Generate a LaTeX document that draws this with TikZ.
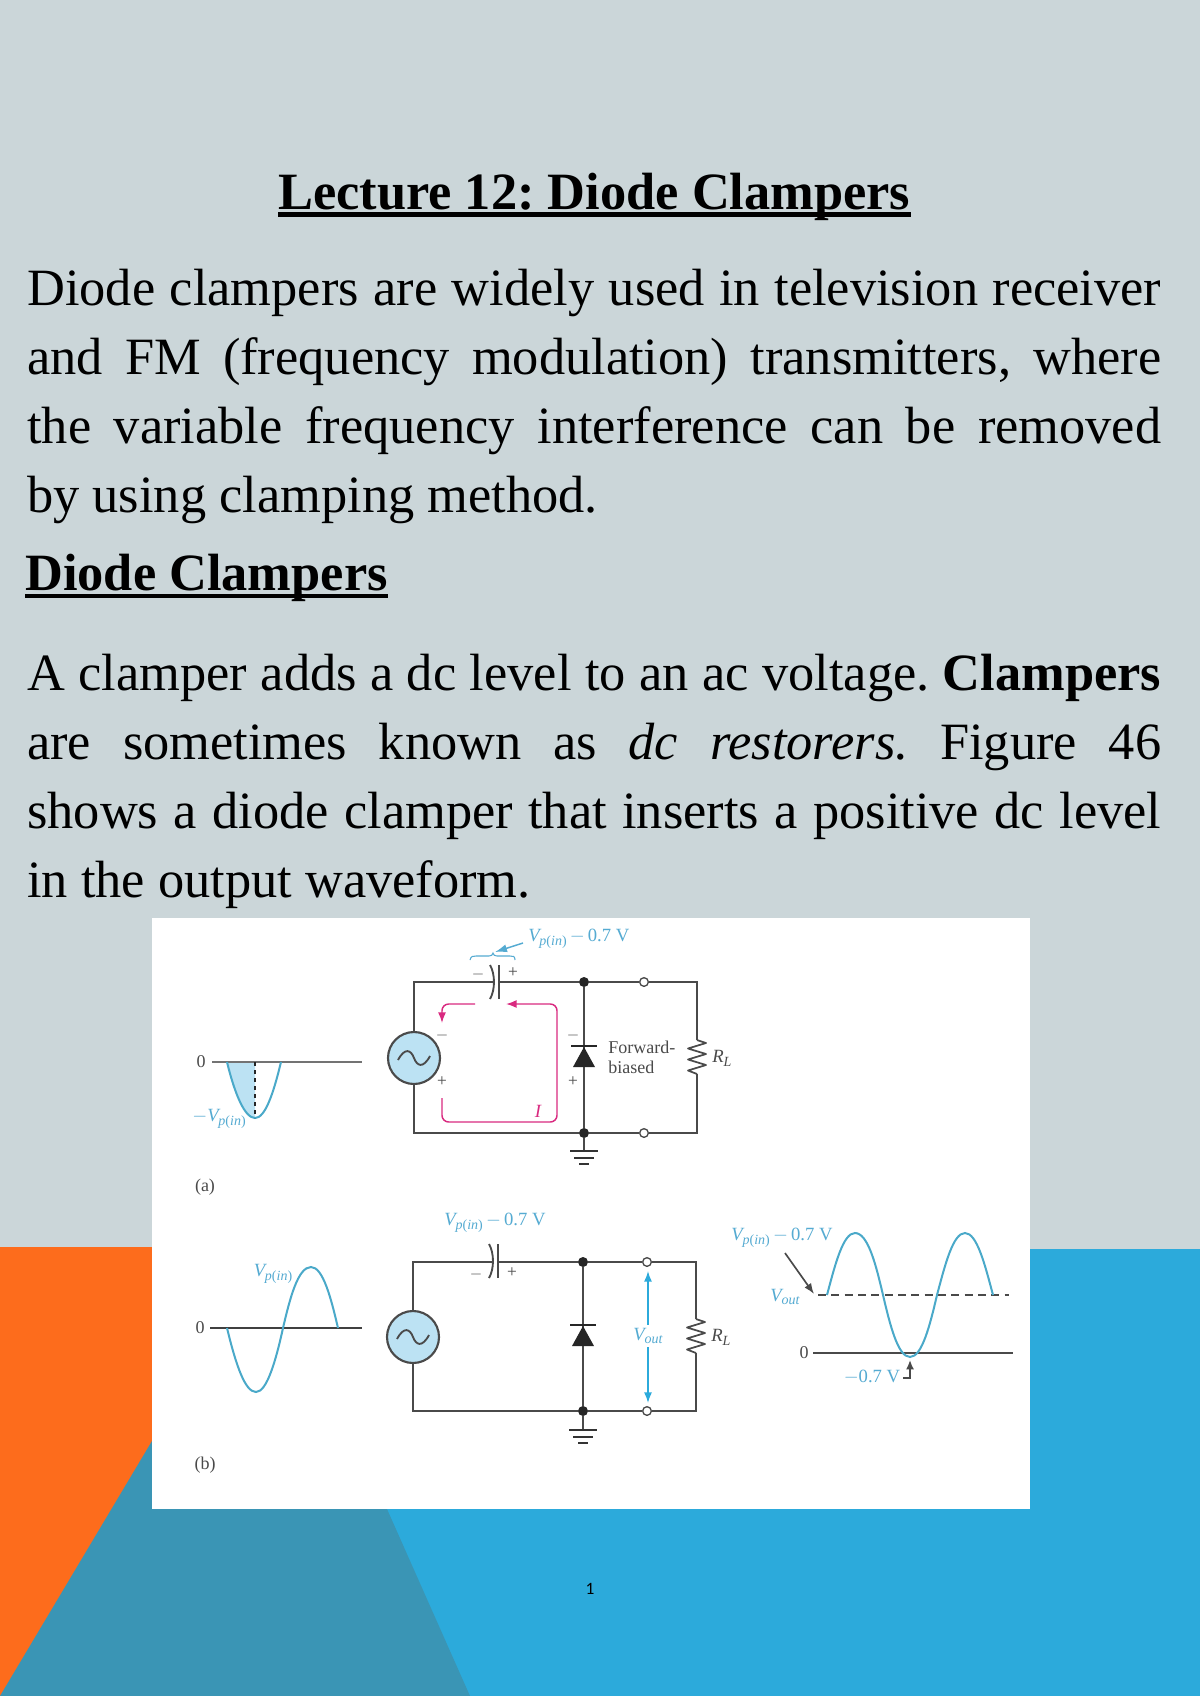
\documentclass[tikz,border=0pt]{standalone}
\usepackage{fontspec}
\setmainfont{Liberation Serif}
\newfontfamily\pagefont{Carlito}
\usepackage{xcolor}
\usepackage{tikz}
\usetikzlibrary{arrows.meta}
\definecolor{slidegray}{HTML}{CBD6D9}
\definecolor{slideorange}{HTML}{FD6C1C}
\definecolor{slideblue}{HTML}{2CAADB}
\definecolor{slideteal}{HTML}{3A95B5}
\definecolor{labelblue}{HTML}{55ABD2}
\definecolor{waveblue}{HTML}{4AA9C9}
\definecolor{fillblue}{HTML}{BCE2F3}
\definecolor{wiregray}{HTML}{4A4A4A}
\definecolor{currentpink}{HTML}{D92A80}
\newcommand{\vpin}{\textit{V}\kern-1.5pt\raisebox{-0.45ex}{\fontsize{10.5}{10.5}\selectfont\textit{p}(\textit{in})}}
\newcommand{\vout}{\textit{V}\kern-1.5pt\raisebox{-0.45ex}{\fontsize{10.5}{10.5}\selectfont\textit{out}}}
\newcommand{\rload}{\textit{R}\raisebox{-0.45ex}{\fontsize{10.5}{10.5}\selectfont\textit{L}}}
\frenchspacing
\tikzset{
  headline/.style={anchor=base west, inner sep=0pt, font=\fontsize{39.3}{39.3}\selectfont\bfseries},
  bodytext/.style={anchor=north west, inner sep=0pt, text width=850.5pt, align=justify,
    font=\fontsize{39.3}{51.6}\selectfont},
  underrule/.style={line width=3.5pt, black},
  wire/.style={line width=1.25pt, wiregray},
  wave/.style={line width=1.5pt, waveblue},
  dotnode/.style={circle, fill=black!85, inner sep=0pt, minimum size=7.5pt},
  termnode/.style={circle, draw=wiregray, fill=white, line width=1pt, inner sep=0pt, minimum size=6.5pt},
  srcnode/.style={circle, draw=wiregray, fill=fillblue, line width=1.6pt, inner sep=0pt, minimum size=39pt},
  bluetext/.style={inner sep=0pt, text=labelblue, font=\fontsize{14}{14}\selectfont},
  graytext/.style={inner sep=0pt, text=wiregray, font=\fontsize{13.5}{15}\selectfont},
  signtext/.style={inner sep=0pt, text=wiregray, font=\fontsize{13}{13}\selectfont},
  pinkline/.style={line width=1.1pt, currentpink, rounded corners=5pt},
  pics/diodepic/.style={code={
    \fill[black!85] (0,1) -- (-11,21) -- (11,21) -- cycle;
    \draw[line width=1.6pt, black!85] (-13,0) -- (13,0);
  }},
  pics/groundpic/.style={code={
    \draw[line width=1.5pt, black!80] (-14,0) -- (14,0);
    \draw[line width=1.5pt, black!80] (-10,6.5) -- (10,6.5);
    \draw[line width=1.5pt, black!80] (-5,12.5) -- (5,12.5);
  }},
  pics/capacitorpic/.style={code={
    \draw[line width=1.4pt, wiregray] (5,-17) -- (5,17);
    \draw[line width=1.4pt, wiregray] (-4,-17) .. controls (1.3,-8) and (1.3,8) .. (-4,17);
  }},
  pics/resistorpic/.style={code={
    \draw[line width=1.3pt, wiregray, line join=round] (0,0) -- (9,3) -- (-9,8.5) -- (9,14) -- (-9,19.5) -- (9,25) -- (-9,30.5) -- (0,34);
  }},
  pics/acwavepic/.style={code={
    \draw[line width=1.4pt, wiregray] (-16,2) .. controls (-9,-11) and (-3,-8) .. (0,0) .. controls (3,8) and (9,11) .. (16,-2);
  }},
}
\begin{document}
\begin{tikzpicture}[x=0.75pt,y=-0.75pt]
\useasboundingbox (0,0) rectangle (1200,1696);
% slide background
\fill[slidegray] (0,0) rectangle (1200,1696);
\fill[slideorange] (0,1247) rectangle (153,1696);
\fill[slideblue] (152,1249) rectangle (1200,1696);
\fill[slideteal] (0,1696) -- (152,1441) -- (387,1509) -- (470,1696) -- cycle;
% text
\node[headline] (title) at (278,209) {Lecture 12: Diode Clampers};
\draw[underrule] ([yshift=-4.25pt]title.base west) -- ([yshift=-4.25pt]title.base east);
\node[bodytext] (intro) at (27,269) {Diode clampers are widely used in television receiver\linebreak and FM (frequency modulation) transmitters, where\linebreak the variable frequency interference can be removed\linebreak by using clamping method.};
\node[headline] (subhead) at (25,590) {Diode Clampers};
\draw[underrule] ([yshift=-4.5pt]subhead.base west) -- ([yshift=-4.5pt]subhead.base east);
\node[bodytext] (para) at (27,654) {A clamper adds a dc level to an ac voltage. \textbf{Clampers}\linebreak are sometimes known as \textit{dc restorers.} Figure 46\linebreak shows a diode clamper that inserts a positive dc level\linebreak in the output waveform.};
\node[inner sep=0pt, font=\pagefont\fontsize{13}{13}\selectfont] (pagenum) at (590,1589) {1};
% figure panel
\fill[white] (152,918) rectangle (1030,1509);
% (a) waveform
\node[graytext] (zeroa) at (201,1062) {0};
\coordinate (axisaL) at (212,1062);
\coordinate (axisaR) at (362,1062);
\fill[fillblue] (227,1062) .. controls (235,1095) and (245,1118) .. (255,1118) -- (255,1062) -- cycle;
\draw[wire, black!55] (axisaL) -- (axisaR);
\draw[wave] (227,1062) .. controls (235,1095) and (245,1118) .. (255,1118) .. controls (265,1118) and (273,1095) .. (281,1062);
\draw[line width=1.1pt, black!85, dashed] (255,1062) -- (255,1118);
\node[bluetext] (peaka) at (219,1119) {$-$\vpin};
\node[graytext] (taga) at (205,1187) {(a)};
% (a) circuit
\node[srcnode] (srca) at (414,1058) {};
\pic at (srca) {acwavepic};
\coordinate (cornerTa) at (414,982);
\coordinate (cornerBa) at (414,1133);
\coordinate (capLa) at (494,982);
\coordinate (capRa) at (499,982);
\node[dotnode] (dotTa) at (584,982) {};
\node[dotnode] (dotBa) at (584,1133) {};
\node[termnode] (termTa) at (644,982) {};
\node[termnode] (termBa) at (644,1133) {};
\coordinate (cornerRTa) at (697,982);
\coordinate (cornerRBa) at (697,1133);
\coordinate (resTa) at (697,1040);
\coordinate (resBa) at (697,1074);
\coordinate (gndTa) at (584,1151);
\draw[wire] (srca) -- (cornerTa) -- (capLa);
\draw[wire] (capRa) -- (dotTa) -- (termTa) -- (cornerRTa) -- (resTa);
\draw[wire] (srca) -- (cornerBa) -- (dotBa) -- (termBa) -- (cornerRBa) -- (resBa);
\draw[wire] (dotTa) -- (dotBa) -- (gndTa);
\pic at (494,982) {capacitorpic};
\pic at (584,1046) {diodepic};
\pic at (gndTa) {groundpic};
\pic at (resTa) {resistorpic};
\node[signtext] (capminusa) at (478,974) {$-$};
\node[signtext] (capplusa) at (513,973) {+};
\node[signtext] (srcminusa) at (442,1035) {$-$};
\node[signtext] (srcplusa) at (442,1082) {+};
\node[signtext] (diominusa) at (573,1035) {$-$};
\node[signtext] (dioplusa) at (573,1082) {+};
\node[graytext, anchor=west, align=left] (forward) at (608,1057) {Forward-\\biased};
\node[graytext, anchor=west, font=\fontsize{14}{14}\selectfont] (rla) at (712,1058) {\rload};
\node[bluetext, anchor=west] (capvolta) at (528,939) {\vpin\,$-$\,0.7 V};
\coordinate (bracetip) at (495,952);
\draw[labelblue, line width=0.8pt] (470,960) .. controls (471,956) and (473,956) .. (476,956) -- (489,956) .. controls (491,956) and (493,955) .. (493,953) .. controls (493,955) and (495,956) .. (497,956) -- (510,956) .. controls (513,956) and (515,956) .. (515,960);
\draw[labelblue, line width=1.1pt, -{Latex[length=9pt,width=6pt]}] (capvolta.west) ++(-5,4) -- (bracetip);
% current loop
\coordinate (loopAa) at (475,1004);
\coordinate (loopBa) at (442,1004);
\coordinate (loopCa) at (442,1023);
\coordinate (loopDa) at (442,1098);
\coordinate (loopEa) at (442,1122);
\coordinate (loopFa) at (557,1122);
\coordinate (loopGa) at (557,1004);
\coordinate (loopHa) at (506,1004);
\draw[pinkline, -{Latex[length=8pt,width=6pt]}] (loopAa) -- (loopBa) -- (loopCa);
\draw[pinkline, -{Latex[length=8pt,width=6pt]}] (loopDa) -- (loopEa) -- (loopFa) -- (loopGa) -- (loopHa);
\node[inner sep=0pt, text=currentpink, font=\fontsize{14}{14}\selectfont\itshape] (curr) at (538,1111) {I};
% (b) waveform
\node[graytext] (zerob) at (200,1328) {0};
\coordinate (axisbL) at (210,1328);
\coordinate (axisbR) at (362,1328);
\draw[wire, black!75] (axisbL) -- (axisbR);
\draw[wave] (227,1328) .. controls (236,1365) and (245,1392) .. (256,1392) .. controls (267,1392) and (276,1360) .. (283,1328) .. controls (290,1298) and (298,1267) .. (311,1267) .. controls (323,1267) and (331,1298) .. (338,1328);
\node[bluetext] (peakb) at (273,1274) {\vpin};
\node[graytext] (tagb) at (205,1465) {(b)};
% (b) circuit
\node[srcnode] (srcb) at (413,1337) {};
\pic at (srcb) {acwavepic};
\coordinate (cornerTb) at (413,1262);
\coordinate (cornerBb) at (413,1411);
\coordinate (capLb) at (493,1262);
\coordinate (capRb) at (498,1262);
\node[dotnode] (dotTb) at (583,1262) {};
\node[dotnode] (dotBb) at (583,1411) {};
\node[termnode] (termTb) at (647,1262) {};
\node[termnode] (termBb) at (647,1411) {};
\coordinate (cornerRTb) at (696,1262);
\coordinate (cornerRBb) at (696,1411);
\coordinate (resTb) at (696,1319);
\coordinate (resBb) at (696,1353);
\coordinate (gndTb) at (583,1430);
\draw[wire] (srcb) -- (cornerTb) -- (capLb);
\draw[wire] (capRb) -- (dotTb) -- (termTb) -- (cornerRTb) -- (resTb);
\draw[wire] (srcb) -- (cornerBb) -- (dotBb) -- (termBb) -- (cornerRBb) -- (resBb);
\draw[wire] (dotTb) -- (dotBb) -- (gndTb);
\pic at (493,1261) {capacitorpic};
\pic at (583,1325) {diodepic};
\pic at (gndTb) {groundpic};
\pic at (resTb) {resistorpic};
\node[signtext] (capminusb) at (476,1274) {$-$};
\node[signtext] (capplusb) at (512,1273) {+};
\node[bluetext] (capvoltb) at (495,1223) {\vpin\,$-$\,0.7 V};
\node[graytext, anchor=west, font=\fontsize{14}{14}\selectfont] (rlb) at (711,1337) {\rload};
\node[bluetext] (voutb) at (648,1336) {\vout};
\coordinate (voutupb) at (648,1271);
\coordinate (voutdownb) at (648,1403);
\draw[line width=1.1pt, slideblue, -{Latex[length=8pt,width=6pt]}] (voutb.north) ++(0,-3) -- (voutupb);
\draw[line width=1.1pt, slideblue, -{Latex[length=8pt,width=6pt]}] (voutb.south) ++(0,3) -- (voutdownb);
% (b) output waveform
\node[graytext] (zeroc) at (804,1353) {0};
\coordinate (axiscL) at (813,1353);
\coordinate (axiscR) at (1013,1353);
\coordinate (dashL) at (818,1295);
\coordinate (dashR) at (1009,1295);
\draw[wire] (axiscL) -- (axiscR);
\draw[wire, dash pattern=on 6pt off 4pt] (dashL) -- (dashR);
\draw[wave] (827,1295) .. controls (835,1265) and (843,1233) .. (855,1233) .. controls (868,1233) and (876,1265) .. (883,1295) .. controls (890,1325) and (898,1357) .. (910,1357) .. controls (922,1357) and (930,1325) .. (937,1295) .. controls (945,1265) and (953,1233) .. (965,1233) .. controls (977,1233) and (985,1265) .. (993,1295);
\node[bluetext] (peakc) at (782,1238) {\vpin\,$-$\,0.7 V};
\node[bluetext] (voutc) at (785,1297) {\vout};
\coordinate (peakcstart) at (785,1253);
\coordinate (peakcend) at (814,1294);
\draw[wire, -{Latex[length=8pt,width=6pt]}] (peakcstart) -- (peakcend);
\node[bluetext] (clampc) at (872,1377) {$-$0.7 V};
\coordinate (clamptip) at (910,1360);
\coordinate (clampknee) at (910,1378);
\draw[wire, -{Latex[length=7pt,width=6pt]}] (clampc.east) ++(3,1) -- (clampknee) -- (clamptip);
\end{tikzpicture}
\end{document}
